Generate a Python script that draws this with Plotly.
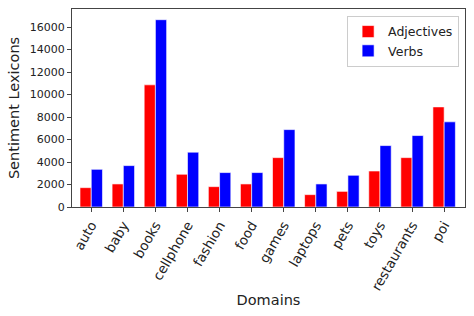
import plotly.graph_objects as go

domains = ["auto", "baby", "books", "cellphone", "fashion", "food", "games",
           "laptops", "pets", "toys", "restaurants", "poi"]
adjectives = [1720, 2050, 10860, 2910, 1810, 2050, 4390, 1100, 1390, 3200, 4390, 8900]
verbs = [3350, 3680, 16650, 4870, 3060, 3060, 6880, 2050, 2820, 5460, 6350, 7570]
y_ticks = [0, 2000, 4000, 6000, 8000, 10000, 12000, 14000, 16000]

FONT = "DejaVu Sans"
TXT = "#222222"

fig = go.Figure()
fig.add_trace(go.Bar(x=domains, y=adjectives, name="Adjectives",
                     marker=dict(color="#ff0000", line=dict(color="white", width=0.6))))
fig.add_trace(go.Bar(x=domains, y=verbs, name="Verbs",
                     marker=dict(color="#0000ff", line=dict(color="white", width=0.6))))

fig.update_layout(
    width=474, height=316,
    margin=dict(l=72, r=9, t=9, b=109),
    paper_bgcolor="white", plot_bgcolor="white",
    barmode="group", bargap=0.3, bargroupgap=0.0,
    font=dict(family=FONT, color=TXT, size=12),
    legend=dict(x=0.985, y=0.965, xanchor="right", yanchor="top",
                bgcolor="rgba(255,255,255,0.8)", bordercolor="#cccccc", borderwidth=1,
                font=dict(size=12.5, family=FONT, color=TXT),
                itemwidth=30, tracegroupgap=0),
    xaxis=dict(
        range=[-0.6, 11.65], tickangle=-60, tickfont=dict(size=13.5),
        showline=True, mirror=True, linecolor="#444444", linewidth=1,
        ticks="outside", ticklen=4, tickcolor="#444444",
        showgrid=False, automargin=False,
        title=dict(text="Domains", font=dict(size=14.5), standoff=2),
    ),
    yaxis=dict(
        range=[0, 17600], tickvals=y_ticks, tickformat="d", tickfont=dict(size=11),
        showline=True, mirror=True, linecolor="#444444", linewidth=1,
        ticks="outside", ticklen=4, tickcolor="#444444",
        showgrid=False, zeroline=False, automargin=False,
        title=dict(text="Sentiment Lexicons", font=dict(size=14.5), standoff=6),
    ),
)

fig.write_html("out.html")
